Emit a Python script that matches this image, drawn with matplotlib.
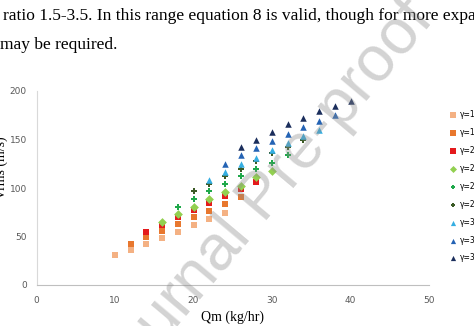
import matplotlib
matplotlib.use("Agg")
import matplotlib.pyplot as plt

# data: Qm (kg/hr) vs vrms (m/s), one series per ratio
labels = ["γ=1.5", "γ=1.75", "γ=2", "γ=2.25", "γ=2.5", "γ=2.75", "γ=3", "γ=3.25", "γ=3.5"]
x_start = [10, 12, 14, 16, 18, 20, 22, 24, 26]
vrms = [
    [30.9, 35.7, 42.3, 48.5, 54.6, 61.9, 68.0, 74.6],
    [42.0, 49.8, 55.7, 62.9, 69.8, 76.0, 83.5, 90.4],
    [55.0, 62.2, 70.1, 77.3, 84.2, 91.8, 99.0, 105.9],
    [65.3, 73.2, 80.7, 88.3, 96.2, 102.4, 111.0, 117.5],
    [80.7, 89.0, 96.6, 104.4, 112.0, 119.2, 126.0, 133.7],
    [96.6, 104.0, 112.4, 119.6, 127.5, 135.7, 142.6, 149.5],
    [108.0, 116.8, 124.7, 131.0, 139.2, 146.0, 153.6, 159.8],
    [124.7, 134.0, 141.2, 148.5, 156.0, 163.2, 169.0, 175.0],
    [142.0, 149.8, 158.0, 165.6, 172.5, 179.4, 184.8, 189.7],
]
colors = ["#F4B183", "#E8772E", "#E41A1C", "#92D050", "#1FA84A",
          "#3B5A26", "#35AEE2", "#2463B4", "#1B2E5C"]
markers = ["s", "s", "s", "D", "P", "P", "^", "^", "^"]

fig = plt.figure(figsize=(4.74, 3.26), dpi=100)
ax = fig.add_axes([36.5 / 474, 41 / 326, (429 - 36.5) / 474, 194 / 326])

for i in range(len(labels)):
    xs = [x_start[i] + 2 * k for k in range(len(vrms[i]))]
    size = 22 if markers[i] in ("s", "^") else 20
    ax.scatter(xs, vrms[i], s=size, marker=markers[i], color=colors[i],
               linewidths=0, label=labels[i], zorder=3)

ax.set_xlim(0, 50)
ax.set_ylim(0, 200)
ax.set_xticks([0, 10, 20, 30, 40, 50])
ax.set_yticks([0, 50, 100, 150, 200])
ax.tick_params(length=0, labelsize=6.5, colors="#595959")
ax.tick_params(axis="y", pad=7)
ax.tick_params(axis="x", pad=8)
for s in ["top", "right"]:
    ax.spines[s].set_visible(False)
ax.spines["left"].set_color("#D9D9D9")
ax.spines["bottom"].set_color("#BFBFBF")

ax.set_xlabel("Qm (kg/hr)", family="Liberation Serif", fontsize=10, labelpad=4)
fig.text(1 / 474, 1 - 168 / 326, "Vrms (m/s)", family="Liberation Serif",
         fontsize=10, rotation=90, ha="center", va="center")

fig.legend(loc="upper left", bbox_to_anchor=(451 / 474, 1 - 110 / 326),
           frameon=False, fontsize=5.5, handlelength=0.6, handletextpad=0.6,
           labelspacing=1.17, borderaxespad=0, borderpad=0, markerscale=0.8)

# paper text around the figure
fig.text(3 / 474, 1 - 16 / 326,
         "ratio 1.5-3.5. In this range equation 8 is valid, though for more expansions",
         family="Liberation Serif", fontsize=12.5, va="center")
fig.text(0 / 474, 1 - 45 / 326, "may be required.",
         family="Liberation Serif", fontsize=12.5, va="center")

# watermark
fig.text(264 / 474, 1 - 198 / 326, "Journal Pre-proof", family="Liberation Sans",
         fontsize=46, rotation=50, color="0.55", alpha=0.38,
         ha="center", va="center", zorder=10)

fig.savefig("out.png", dpi=100)
